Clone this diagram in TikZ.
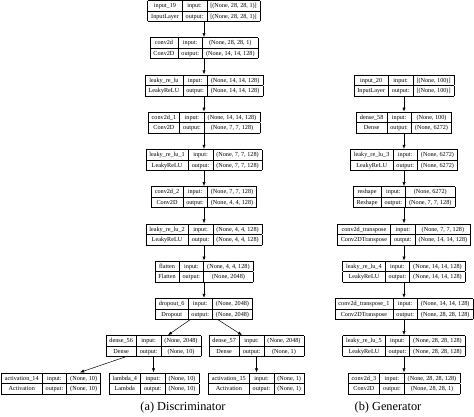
\documentclass[tikz,border=0pt]{standalone}
\usepackage{fontspec}
\setmainfont{Liberation Serif}
\usetikzlibrary{arrows.meta}

\setlength{\tabcolsep}{3.5pt}
\setlength{\arrayrulewidth}{0.5pt}
\newcommand{\keraslayer}[4]{\renewcommand{\arraystretch}{1.35}%
\begin{tabular}{|c|c|c|}\hline
#1 & input: & #3\\\hline
#2 & output: & #4\\\hline
\end{tabular}}

\tikzset{
  layer/.style={inner sep=0pt, font=\fontsize{6.2}{7.4}\selectfont},
  arr/.style={-{Latex[length=4pt,width=3.2pt]}, line width=0.5pt},
  subcap/.style={font=\fontsize{12.3}{14}\selectfont}
}

\begin{document}
\begin{tikzpicture}[x=1pt, y=-1pt]
\useasboundingbox (0,0) rectangle (474,416);

\node [layer] (input19) at (204,10.8) {\keraslayer{input\_19}{InputLayer}{[(None, 28, 28, 1)]}{[(None, 28, 28, 1)]}};
\node [layer] (conv2d) at (204,48.05) {\keraslayer{conv2d}{Conv2D}{(None, 28, 28, 1)}{(None, 14, 14, 128)}};
\node [layer] (leaky) at (204,85.3) {\keraslayer{leaky\_re\_lu}{LeakyReLU}{(None, 14, 14, 128)}{(None, 14, 14, 128)}};
\node [layer] (conv2da) at (204,122.55) {\keraslayer{conv2d\_1}{Conv2D}{(None, 14, 14, 128)}{(None, 7, 7, 128)}};
\node [layer] (leakya) at (204,159.8) {\keraslayer{leaky\_re\_lu\_1}{LeakyReLU}{(None, 7, 7, 128)}{(None, 7, 7, 128)}};
\node [layer] (conv2db) at (204,197.05) {\keraslayer{conv2d\_2}{Conv2D}{(None, 7, 7, 128)}{(None, 4, 4, 128)}};
\node [layer] (leakyb) at (204,234.3) {\keraslayer{leaky\_re\_lu\_2}{LeakyReLU}{(None, 4, 4, 128)}{(None, 4, 4, 128)}};
\node [layer] (flatten) at (204,271.55) {\keraslayer{flatten}{Flatten}{(None, 4, 4, 128)}{(None, 2048)}};
\node [layer] (dropout) at (204,308.8) {\keraslayer{dropout\_6}{Dropout}{(None, 2048)}{(None, 2048)}};
\node [layer] (densea) at (153.5,346.05) {\keraslayer{dense\_56}{Dense}{(None, 2048)}{(None, 10)}};
\node [layer] (denseb) at (256.5,346.05) {\keraslayer{dense\_57}{Dense}{(None, 2048)}{(None, 1)}};
\node [layer] (acta) at (51,383.3) {\keraslayer{activation\_14}{Activation}{(None, 10)}{(None, 10)}};
\node [layer] (lambda) at (154,383.3) {\keraslayer{lambda\_4}{Lambda}{(None, 10)}{(None, 10)}};
\node [layer] (actb) at (256.5,383.3) {\keraslayer{activation\_15}{Activation}{(None, 1)}{(None, 1)}};

\foreach \a/\b in {input19/conv2d, conv2d/leaky, leaky/conv2da, conv2da/leakya, leakya/conv2db, conv2db/leakyb, leakyb/flatten, flatten/dropout}
  \draw [arr] (\a.south) -- (\b.north);
\draw [arr] ([xshift=-14pt]dropout.south) -- ([xshift=14.5pt]densea.north);
\draw [arr] ([xshift=14pt]dropout.south) -- ([xshift=-14.5pt]denseb.north);
\draw [arr] ([xshift=-28.5pt]densea.south) -- ([xshift=29pt]acta.north);
\draw [arr] (densea.south) -- (densea.south |- lambda.north);
\draw [arr] (denseb.south) -- (actb.north);

\node [layer] (input20) at (404,85.3) {\keraslayer{input\_20}{InputLayer}{[(None, 100)]}{[(None, 100)]}};
\node [layer] (densec) at (404,122.55) {\keraslayer{dense\_58}{Dense}{(None, 100)}{(None, 6272)}};
\node [layer] (leakyc) at (404,159.8) {\keraslayer{leaky\_re\_lu\_3}{LeakyReLU}{(None, 6272)}{(None, 6272)}};
\node [layer] (reshape) at (404,197.05) {\keraslayer{reshape}{Reshape}{(None, 6272)}{(None, 7, 7, 128)}};
\node [layer] (convt) at (404,234.3) {\keraslayer{conv2d\_transpose}{Conv2DTranspose}{(None, 7, 7, 128)}{(None, 14, 14, 128)}};
\node [layer] (leakyd) at (404,271.55) {\keraslayer{leaky\_re\_lu\_4}{LeakyReLU}{(None, 14, 14, 128)}{(None, 14, 14, 128)}};
\node [layer] (convta) at (404,308.8) {\keraslayer{conv2d\_transpose\_1}{Conv2DTranspose}{(None, 14, 14, 128)}{(None, 28, 28, 128)}};
\node [layer] (leakye) at (404,346.05) {\keraslayer{leaky\_re\_lu\_5}{LeakyReLU}{(None, 28, 28, 128)}{(None, 28, 28, 128)}};
\node [layer] (conv2dc) at (404,383.3) {\keraslayer{conv2d\_3}{Conv2D}{(None, 28, 28, 128)}{(None, 28, 28, 1)}};

\foreach \a/\b in {input20/densec, densec/leakyc, leakyc/reshape, reshape/convt, convt/leakyd, leakyd/convta, convta/leakye, leakye/conv2dc}
  \draw [arr] (\a.south) -- (\b.north);

\node [subcap] (capa) at (183,408) {(a) Discriminator};
\node [subcap] (capb) at (388,408) {(b) Generator};
\end{tikzpicture}
\end{document}
